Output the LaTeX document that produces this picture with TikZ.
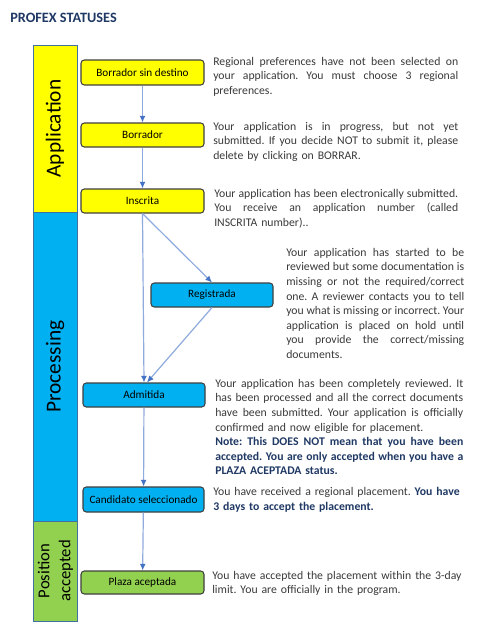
\documentclass[tikz,border=0pt]{standalone}
\usepackage{fontspec}
\setmainfont{Carlito}
\usetikzlibrary{arrows.meta}
\definecolor{ylw}{HTML}{FFFF00}
\definecolor{blu}{HTML}{00B0F0}
\definecolor{grn}{HTML}{92D050}
\definecolor{lanebd}{HTML}{41719C}
\definecolor{boxbd}{HTML}{404040}
\definecolor{navy}{HTML}{1F3864}
\definecolor{arrline}{HTML}{8FAADC}
\definecolor{arrhead}{HTML}{4472C4}
\definecolor{bodytxt}{HTML}{3A3A3A}
\newlength\jw
\newcommand\jl[1]{\hbox to \jw{\spaceskip=0.3em plus 1em minus 0.1em\relax #1}}
\newcommand\nb[1]{\textcolor{navy}{\bfseries #1}}
\frenchspacing
\begin{document}
\begin{tikzpicture}[x=0.75pt,y=-0.75pt,
 lane/.style={draw=lanebd,line width=0.75pt},
 status/.style={draw=boxbd,line width=0.8pt,rounded corners=2.5pt,inner sep=0pt,
   minimum width=92.25pt,minimum height=18pt,font=\fontsize{8.4}{10}\selectfont},
 desc/.style={anchor=north west,inner sep=0pt,align=left,text=bodytxt,
   font=\fontsize{8.8}{10.9}\selectfont\frenchspacing},
 flow/.style={draw=arrline,line width=0.9pt,-{Latex[length=5pt,width=4.5pt,color=arrhead]}},
 lanelabel/.style={rotate=90,inner sep=0pt,font=\fontsize{16}{19}\selectfont}]
\useasboundingbox (0,0) rectangle (502,640);
\fill[white] (0,0) rectangle (502,640);

\node[anchor=west,inner sep=0pt,text=navy,font=\fontsize{10.7}{12}\selectfont\bfseries] (title) at (10,17.5) {PROFEX STATUSES};

% lanes
\filldraw[lane,fill=ylw] (33,45) rectangle (77,212);
\filldraw[lane,fill=blu] (33,212) rectangle (77,521);
\filldraw[lane,fill=grn] (33,521) rectangle (77,621);
\node[lanelabel] (lapp) at (55,128.5) {Application};
\node[lanelabel] (lproc) at (55,366.5) {Processing};
\node[lanelabel,align=center,font=\fontsize{12.5}{15.75}\selectfont] (lpos) at (55.5,571) {Position\\accepted};

% status boxes
\node[status,fill=ylw,minimum height=18.75pt] (bsd) at (142.5,72.5) {Borrador sin destino};
\node[status,fill=ylw] (bor) at (142.5,135) {Borrador};
\node[status,fill=ylw] (ins) at (142.5,201) {Inscrita};
\node[status,fill=blu,minimum width=91.5pt] (reg) at (212,295) {Registrada};
\node[status,fill=blu,minimum width=91.5pt] (adm) at (144,395) {Admitida};
\node[status,fill=blu,minimum width=90.75pt,minimum height=18.75pt] (can) at (143.5,499.5) {Candidato seleccionado};
\node[status,fill=grn,minimum height=17.25pt] (pla) at (142.5,582.5) {Plaza aceptada};

% connectors
\draw[flow] (bsd) -- (bor);
\draw[flow] (bor) -- (ins);
\draw[flow] (ins.south) -- (adm.north);
\draw[flow] (ins.south) -- (reg.north);
\draw[flow] (reg.south) -- ([xshift=2.25pt]adm.north);
\draw[flow] (adm) -- (can);
\draw[flow] (can) -- (pla);

% descriptions
\node[desc,text width=183.75pt] (d1) at (213,57) {\setlength\jw{183.75pt}%
\jl{Regional preferences have not been selected on}
\jl{your application. You must choose 3 regional}
\hbox{preferences.}};
\node[desc,text width=183.75pt] (d2) at (213,122) {\setlength\jw{183.75pt}%
\jl{Your application is in progress, but not yet}
\jl{submitted. If you decide NOT to submit it, please}
\hbox{delete by clicking on BORRAR.}};
\node[desc,text width=183.75pt] (d3) at (214,189) {\setlength\jw{183pt}%
\jl{Your application has been electronically submitted.}
\jl{You receive an application number (called}
\hbox{INSCRITA number)..}};
\node[desc,text width=133.5pt] (d4) at (286,248) {\setlength\jw{133.5pt}%
\jl{Your application has started to be}
\jl{reviewed but some documentation is}
\jl{missing or not the required/correct}
\jl{one. A reviewer contacts you to tell}
\jl{you what is missing or incorrect. Your}
\jl{application is placed on hold until}
\jl{you provide the correct/missing}
\hbox{documents.}};
\node[desc,text width=186pt] (d5) at (215,379) {\setlength\jw{186pt}%
\jl{Your application has been completely reviewed. It}
\jl{has been processed and all the correct documents}
\jl{have been submitted. Your application is officially}
\hbox{confirmed and now eligible for placement.}
\jl{\nb{Note: This DOES NOT mean that you have been}}
\jl{\nb{accepted. You are only accepted when you have a}}
\hbox{\nb{PLAZA ACEPTADA status.}}};
\node[desc,text width=230pt] (d6) at (213,487) {%
\hbox{You have received a regional placement. \nb{You have}}
\hbox{\nb{3 days to accept the placement.}}};
\node[desc,text width=230pt] (d7) at (212,571) {%
\hbox{You have accepted the placement within the 3-day}
\hbox{limit. You are officially in the program.}};
\end{tikzpicture}
\end{document}
